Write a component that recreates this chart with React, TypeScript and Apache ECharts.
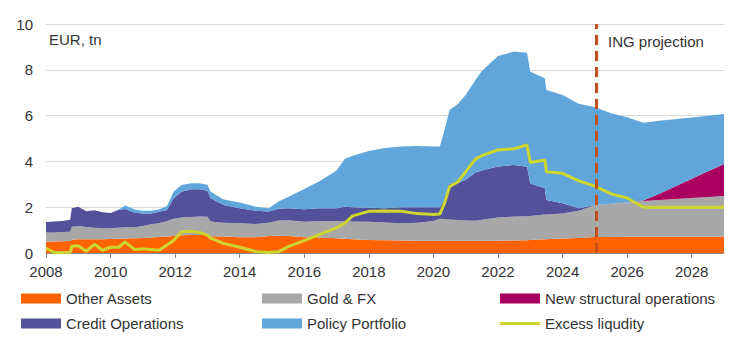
import React, { useEffect, useRef } from "react";
import * as echarts from "echarts";

// Dates (decimal years)
const dates = [
  2008.0, 2008.25, 2008.5, 2008.75, 2008.8,
  2009.0, 2009.25, 2009.5, 2009.75,
  2010.0, 2010.25, 2010.45, 2010.75,
  2011.0, 2011.25, 2011.5, 2011.75, 2011.95,
  2012.2, 2012.5, 2012.75,
  2013.0, 2013.1, 2013.5,
  2014.0, 2014.5, 2014.9,
  2015.2, 2015.5,
  2016.0, 2016.5,
  2017.0, 2017.25, 2017.5,
  2018.0, 2018.5,
  2019.0, 2019.5,
  2020.0, 2020.2, 2020.35, 2020.5, 2020.75,
  2021.0, 2021.3, 2021.5,
  2022.0, 2022.5, 2022.9,
  2023.0, 2023.45, 2023.5,
  2024.0, 2024.5,
  2025.0, 2025.5,
  2026.0, 2026.5,
  2027.0, 2028.0, 2029.0,
];

// EUR tn
const otherAssets = [
  0.49, 0.50, 0.51, 0.52, 0.58,
  0.60, 0.60, 0.60, 0.60,
  0.61, 0.62, 0.63, 0.64,
  0.66, 0.68, 0.70, 0.72, 0.74,
  0.78, 0.79, 0.79,
  0.79, 0.73, 0.72,
  0.69, 0.69, 0.74,
  0.75, 0.74,
  0.69, 0.68,
  0.64, 0.62, 0.60,
  0.57, 0.56,
  0.55, 0.54,
  0.54, 0.54, 0.54, 0.54, 0.54,
  0.54, 0.54, 0.54,
  0.54, 0.55, 0.56,
  0.57, 0.60, 0.60,
  0.63, 0.66,
  0.70, 0.70,
  0.71, 0.71,
  0.71, 0.71, 0.71,
];

const goldFx = [
  0.40, 0.40, 0.41, 0.41, 0.57,
  0.58, 0.53, 0.50, 0.48,
  0.47, 0.48, 0.49, 0.48,
  0.52, 0.58, 0.60, 0.68, 0.76,
  0.77, 0.78, 0.80,
  0.79, 0.65, 0.60,
  0.61, 0.58, 0.58,
  0.67, 0.69,
  0.68, 0.72,
  0.76, 0.78, 0.78,
  0.79, 0.77,
  0.75, 0.78,
  0.86, 0.96, 0.94, 0.92, 0.90,
  0.88, 0.87, 0.91,
  1.01, 1.04, 1.04,
  1.05, 1.08, 1.08,
  1.10, 1.19,
  1.38, 1.45,
  1.49, 1.56,
  1.60, 1.69, 1.78,
];

const newStructural = [
  0, 0, 0, 0, 0,
  0, 0, 0, 0,
  0, 0, 0, 0,
  0, 0, 0, 0, 0,
  0, 0, 0,
  0, 0, 0,
  0, 0, 0,
  0, 0,
  0, 0,
  0, 0, 0,
  0, 0,
  0, 0,
  0, 0, 0, 0, 0,
  0, 0, 0,
  0, 0, 0,
  0, 0, 0,
  0, 0,
  0, 0,
  0, 0.02,
  0.28, 0.84, 1.40,
];

const creditOps = [
  0.46, 0.48, 0.48, 0.52, 0.80,
  0.84, 0.69, 0.77, 0.70,
  0.67, 0.78, 0.80, 0.64,
  0.54, 0.47, 0.50, 0.48, 0.89,
  1.13, 1.21, 1.19,
  1.14, 1.01, 0.78,
  0.65, 0.58, 0.49,
  0.51, 0.52,
  0.54, 0.55,
  0.55, 0.62, 0.62,
  0.62, 0.62,
  0.70, 0.68,
  0.60, 0.50, 0.87, 1.58, 1.61,
  1.78, 2.11, 2.15,
  2.23, 2.25, 2.17,
  1.42, 1.15, 0.63,
  0.44, 0.10,
  0.02, 0,
  0, 0,
  0, 0, 0,
];

const policyPortfolio = [
  0, 0, 0, 0, 0,
  0, 0, 0, 0,
  0, 0.02, 0.15, 0.14,
  0.13, 0.12, 0.10, 0.17, 0.29,
  0.29, 0.27, 0.27,
  0.26, 0.29, 0.24,
  0.25, 0.17, 0.14,
  0.32, 0.50,
  0.89, 1.20,
  1.65, 2.08, 2.25,
  2.47, 2.63,
  2.65, 2.67,
  2.65, 2.65, 3.05, 3.20, 3.45,
  3.70, 4.03, 4.35,
  4.82, 4.96, 4.97,
  4.88, 4.80, 4.81,
  4.73, 4.57,
  4.28, 3.95,
  3.73, 3.40,
  3.18, 2.68, 2.18,
];

const excessLiquidity = [
  0.22, 0.02, 0.02, 0.03, 0.30,
  0.32, 0.08, 0.38, 0.12,
  0.25, 0.25, 0.48, 0.15,
  0.18, 0.15, 0.12, 0.35, 0.55,
  0.93, 0.95, 0.90,
  0.78, 0.65, 0.42,
  0.25, 0.06, 0.02,
  0.05, 0.28,
  0.54, 0.82,
  1.10, 1.30, 1.62,
  1.82, 1.83,
  1.82, 1.72,
  1.68, 1.70, 2.20, 2.90, 3.10,
  3.55, 4.10, 4.25,
  4.50, 4.55, 4.72,
  3.95, 4.06, 3.55,
  3.48, 3.15,
  2.92, 2.58,
  2.40, 2.00,
  2.00, 2.00, 2.00,
];

const xTickLabels = [2008, 2010, 2012, 2014, 2016, 2018, 2020, 2022, 2024, 2026, 2028];
const projectionStart = 2025.05;

const seriesNames = [
  "Other Assets",
  "Gold & FX",
  "New structural operations",
  "Credit Operations",
  "Policy Portfolio",
  "Excess liqudity",
];
const colors = ["#FF6200", "#A8A8A8", "#AA0060", "#52519A", "#60A6DA", "#CDD62E"];

const FONT = '"Liberation Sans", Arial, sans-serif';

export default function App() {
  const ref = useRef<HTMLDivElement>(null);

  useEffect(() => {
    const chart = echarts.init(ref.current!, null, { renderer: "svg" });
    const layers = [otherAssets, goldFx, newStructural, creditOps, policyPortfolio];
    // value first, date second, so that stacking happens on the y value
    const series: any[] = layers.map((arr, k) => ({
      name: seriesNames[k],
      type: "line",
      stack: "total",
      data: dates.map((d, i) => [arr[i], d]),
      encode: { x: 1, y: 0 },
      symbol: "none",
      showSymbol: false,
      lineStyle: { width: 0, color: colors[k] },
      areaStyle: { color: colors[k], opacity: 1 },
      itemStyle: { color: colors[k] },
      color: colors[k],
      z: 2,
    }));
    series.push({
      name: seriesNames[5],
      type: "line",
      data: dates.map((d, i) => [d, excessLiquidity[i]]),
      symbol: "none",
      showSymbol: false,
      lineStyle: { width: 3, color: colors[5] },
      itemStyle: { color: colors[5] },
      color: colors[5],
      z: 3,
      markLine: {
        silent: true,
        symbol: ["none", "none"],
        label: { show: false },
        lineStyle: { color: "#C4501B", type: [10, 6], width: 3 },
        data: [{ xAxis: projectionStart }],
      },
    });

    const legendPos = [
      [21, 291],
      [262, 291],
      [500, 291],
      [21, 316],
      [262, 316],
      [500, 316],
    ];
    const legend = seriesNames.map((n, k) => ({
      data: [n],
      left: legendPos[k][0],
      top: legendPos[k][1],
      padding: 0,
      itemWidth: 40,
      itemHeight: k === 5 ? 3 : 10,
      icon: "rect",
      selectedMode: false,
      textStyle: { fontSize: 15, color: "#333", fontFamily: FONT },
    }));

    chart.setOption({
      animation: false,
      textStyle: { fontFamily: FONT },
      grid: { left: 46, right: 23, top: 24, bottom: 97 },
      legend,
      xAxis: {
        type: "value",
        min: 2008,
        max: 2029,
        interval: 2,
        axisLine: { show: true, lineStyle: { color: "#8C8C8C", width: 1 } },
        axisTick: {
          show: true,
          length: 5,
          lineStyle: { color: "#8C8C8C" },
          customValues: xTickLabels,
        },
        axisLabel: {
          customValues: xTickLabels,
          formatter: (v: number) => String(v),
          fontSize: 15,
          color: "#333",
          fontFamily: FONT,
          margin: 11,
        },
        splitLine: { show: false },
      },
      yAxis: {
        type: "value",
        min: 0,
        max: 10,
        interval: 2,
        axisLine: { show: false },
        axisTick: { show: false },
        axisLabel: { fontSize: 15, color: "#333", fontFamily: FONT, margin: 13 },
        splitLine: { lineStyle: { color: "#D9D9D9", width: 1 } },
      },
      graphic: [
        {
          type: "text",
          left: 49,
          top: 32,
          style: { text: "EUR, tn", fontSize: 15, fill: "#333", fontFamily: FONT },
        },
        {
          type: "text",
          left: 608,
          top: 34,
          style: { text: "ING projection", fontSize: 15, fill: "#333", fontFamily: FONT },
        },
      ],
      series,
    });

    return () => chart.dispose();
  }, []);

  return (
    <div
      ref={ref}
      style={{ position: "fixed", left: 0, top: 0, width: 747, height: 350, background: "#fff" }}
    />
  );
}
